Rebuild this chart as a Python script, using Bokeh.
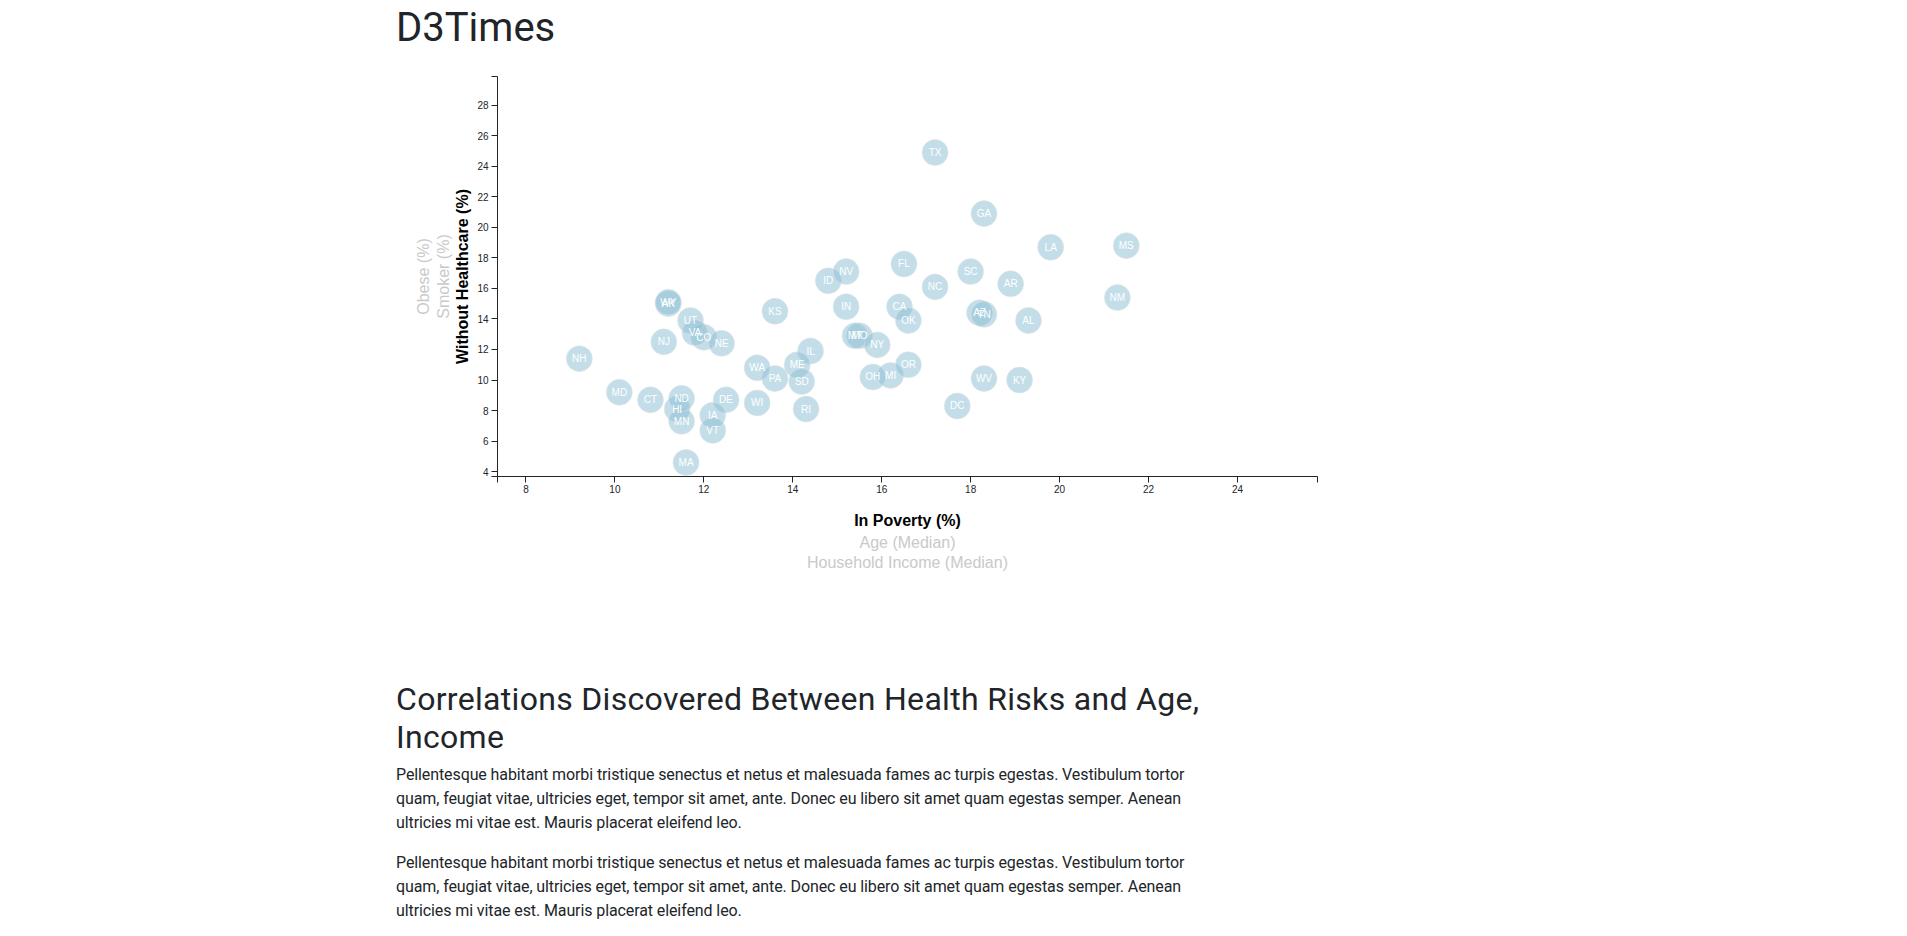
from bokeh.plotting import figure
from bokeh.models import Range1d, FixedTicker, ColumnDataSource, LinearAxis, Div
from bokeh.layouts import column
from bokeh.embed import file_html
from bokeh.resources import INLINE
from bokeh.core.properties import value

# ---------------- data ----------------
abbr = ["AL", "AK", "AZ", "AR", "CA", "CO", "CT", "DE", "DC", "FL", "GA", "HI", "ID",
        "IL", "IN", "IA", "KS", "KY", "LA", "ME", "MD", "MA", "MI", "MN", "MS", "MO",
        "MT", "NE", "NV", "NH", "NJ", "NM", "NY", "NC", "ND", "OH", "OK", "OR", "PA",
        "RI", "SC", "SD", "TN", "TX", "UT", "VT", "VA", "WA", "WV", "WI", "WY"]
poverty = [19.3, 11.2, 18.2, 18.9, 16.4, 12.0, 10.8, 12.5, 17.7, 16.5, 18.3, 11.4, 14.8,
           14.4, 15.2, 12.2, 13.6, 19.1, 19.8, 14.1, 10.1, 11.6, 16.2, 11.5, 21.5, 15.5,
           15.4, 12.4, 15.2, 9.2, 11.1, 21.3, 15.9, 17.2, 11.5, 15.8, 16.6, 16.6, 13.6,
           14.3, 18.0, 14.2, 18.3, 17.2, 11.7, 12.2, 11.8, 13.2, 18.3, 13.2, 11.2]
healthcare = [13.9, 15.0, 14.4, 16.3, 14.8, 12.8, 8.7, 8.7, 8.3, 17.6, 20.9, 8.1, 16.5,
              11.9, 14.8, 7.7, 14.5, 10.0, 18.7, 11.0, 9.2, 4.6, 10.3, 7.3, 18.8, 12.9,
              12.9, 12.4, 17.1, 11.4, 12.5, 15.4, 12.3, 16.1, 8.8, 10.2, 13.9, 11.0, 10.1,
              8.1, 17.1, 9.9, 14.3, 24.9, 13.9, 6.7, 13.1, 10.8, 10.1, 8.5, 15.1]

x_ticks = [8, 10, 12, 14, 16, 18, 20, 22, 24]
y_ticks = [4, 6, 8, 10, 12, 14, 16, 18, 20, 22, 24, 26, 28]

page_title = "D3Times"
x_labels = ["In Poverty (%)", "Age (Median)", "Household Income (Median)"]
y_labels = ["Without Healthcare (%)", "Smoker (%)", "Obese (%)"]
heading_lines = ["Correlations Discovered Between Health Risks and Age,", "Income"]
paragraph_lines = [
    "Pellentesque habitant morbi tristique senectus et netus et malesuada fames ac turpis egestas. Vestibulum tortor",
    "quam, feugiat vitae, ultricies eget, tempor sit amet, ante. Donec eu libero sit amet quam egestas semper. Aenean",
    "ultricies mi vitae est. Mauris placerat eleifend leo.",
]

# ---------------- layout (pixels) ----------------
W = 1890
TOP_H = 60                    # title strip
FL, FW, FH = 497, 820, 400    # plot frame
MAIN_TOP, MAIN_BOTTOM = 16, 120
BOT_H = 332                   # text strip
LEFT = 396
txt_col = "#212529"
axis_col = "#212529"


def line_html(txt, top, size, lh, spacing=0.0):
    return ('<div style="position:absolute;left:%dpx;top:%.2fpx;font-family:Roboto,sans-serif;'
            'font-size:%dpx;line-height:%.1fpx;font-weight:400;color:%s;white-space:nowrap;'
            'letter-spacing:%.2fpx;margin:0;padding:0;">%s</div>'
            % (LEFT, top, size, lh, txt_col, spacing, txt))


def strip(inner, h):
    html = '<div style="position:relative;width:%dpx;height:%dpx;margin:0;padding:0;">%s</div>' % (W, h, inner)
    return Div(text=html, width=W, height=h, margin=(0, 0, 0, 0))


# ---- title strip ----
top = strip(line_html(page_title, 4.0, 40, 48), TOP_H)

# ---- scatter plot ----
x_lo, x_hi = min(poverty) * 0.8, max(poverty) * 1.2
y_lo, y_hi = min(healthcare) * 0.8, max(healthcare) * 1.2
src = ColumnDataSource(dict(abbr=abbr, poverty=poverty, healthcare=healthcare))

p = figure(output_backend="svg", toolbar_location=None,
           frame_width=FW, frame_height=FH,
           min_border_left=FL, min_border_right=W - FL - FW,
           min_border_top=MAIN_TOP, min_border_bottom=MAIN_BOTTOM,
           x_range=Range1d(x_lo, x_hi), y_range=Range1d(y_lo, y_hi),
           background_fill_color="white", border_fill_color="white")
p.outline_line_color = None
p.xgrid.visible = False
p.ygrid.visible = False

for ax, ticks, lo, hi in ((p.xaxis[0], x_ticks, x_lo, x_hi), (p.yaxis[0], y_ticks, y_lo, y_hi)):
    ax.ticker = FixedTicker(ticks=ticks, minor_ticks=[lo, hi])
    ax.axis_line_color = axis_col
    ax.major_tick_line_color = axis_col
    ax.minor_tick_line_color = axis_col
    ax.major_tick_out = 6
    ax.major_tick_in = 0
    ax.minor_tick_out = 6
    ax.minor_tick_in = 0
    ax.major_label_text_font = "Liberation Sans"
    ax.major_label_text_font_size = "10px"
    ax.major_label_text_color = axis_col
    ax.axis_label_text_font = "Liberation Sans"
    ax.axis_label_text_font_size = "16px"
    ax.axis_label_text_font_style = "bold"
    ax.axis_label_text_color = "#000000"

p.xaxis.major_label_standoff = 2
p.yaxis.major_label_standoff = 3
p.xaxis.axis_label = x_labels[0]
p.xaxis.axis_label_standoff = 16
p.yaxis.axis_label = y_labels[0]
p.yaxis.axis_label_standoff = 3

# inactive (unselected) axis choices, stacked as label-only axes
for lab, side, so in [(x_labels[1], "below", 2), (x_labels[2], "below", 0),
                      (y_labels[1], "left", 0), (y_labels[2], "left", 0)]:
    ax = LinearAxis(axis_label=lab, ticker=FixedTicker(ticks=[]),
                    axis_line_color=None, major_tick_out=0, major_tick_in=0,
                    minor_tick_out=0, minor_tick_in=0, major_label_standoff=0,
                    axis_label_standoff=so,
                    axis_label_text_font="Liberation Sans",
                    axis_label_text_font_size="16px",
                    axis_label_text_font_style="normal",
                    axis_label_text_color="#c9c9c9")
    p.add_layout(ax, side)

p.scatter("poverty", "healthcare", source=src, size=26,
          fill_color="#89bdd3", fill_alpha=0.5,
          line_color="#e3e3e3", line_alpha=0.5, line_width=1)
p.text("poverty", "healthcare", text="abbr", source=src,
       text_font=value("Liberation Sans"), text_font_size="10px",
       text_color="white", text_align="center", text_baseline="middle")

# ---- text strip ----
off = TOP_H + MAIN_TOP + FH + MAIN_BOTTOM
inner = ""
for i, t in enumerate(heading_lines):
    inner += line_html(t, 680.0 - off + 38.4 * i, 32, 38.4, 0.31)
para_top = [763.3, 787.3, 811.3, 851.3, 875.3, 899.3]
for i, tp in enumerate(para_top):
    inner += line_html(paragraph_lines[i % 3], tp - off, 16, 24, -0.1)
bot = strip(inner, BOT_H)

layout = column(top, p, bot, spacing=0)
open("out.html", "w").write(file_html(layout, INLINE))
